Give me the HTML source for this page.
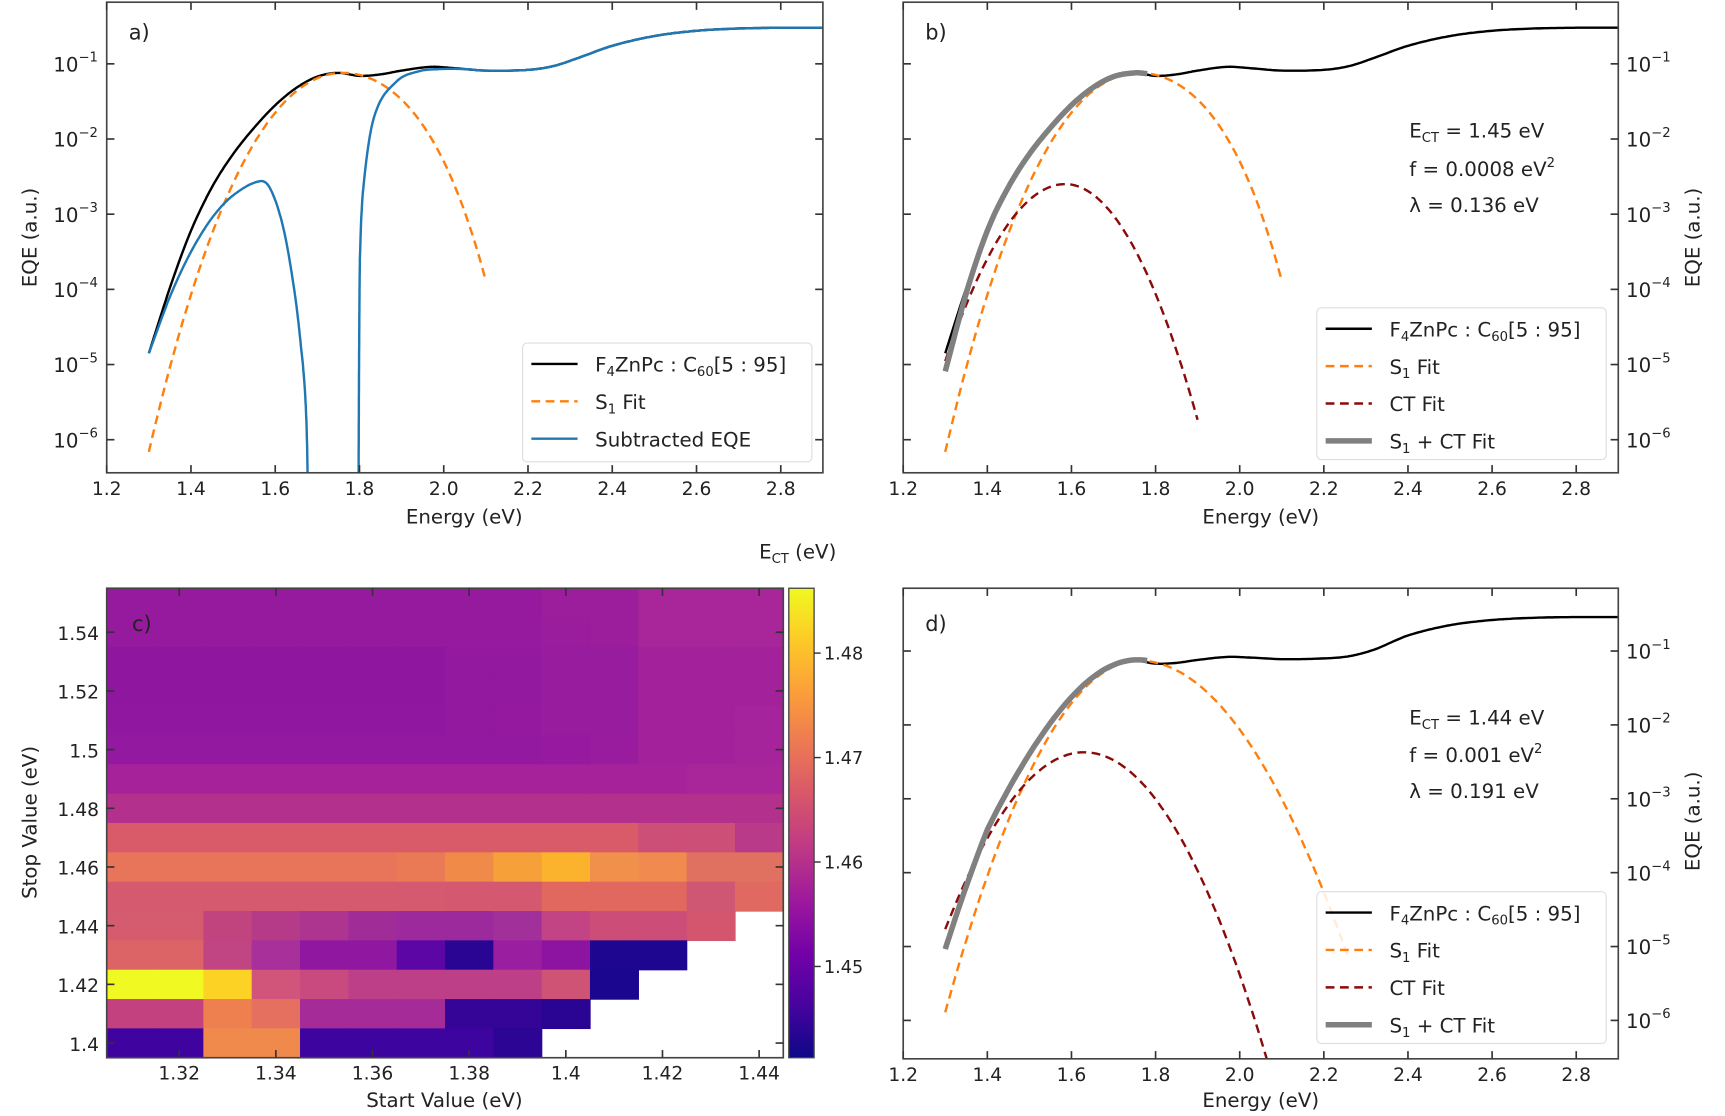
<!DOCTYPE html>
<html><head><meta charset="utf-8"><style>
html,body{margin:0;padding:0;background:#fff;}
svg{display:block;font-family:"DejaVu Sans","Liberation Sans",sans-serif;}
</style></head><body>
<svg id="s" width="1725" height="1116" viewBox="0 0 1568 1015" preserveAspectRatio="none" xmlns="http://www.w3.org/2000/svg"></svg>
<script>
var S=document.getElementById('s');var out='';
function herm(pts){var n=pts.length,m=[];for(var i=0;i<n;i++){var a=pts[Math.max(i-1,0)],b=pts[Math.min(i+1,n-1)];m.push((b[1]-a[1])/(b[0]-a[0]));}
var r=[];for(var i=0;i<n-1;i++){var x0=pts[i][0],x1=pts[i+1][0],h=x1-x0,y0=pts[i][1],y1=pts[i+1][1];var K=16;for(var k=0;k<K;k++){var t=k/K,t2=t*t,t3=t2*t;r.push([x0+h*t,(2*t3-3*t2+1)*y0+(t3-2*t2+t)*h*m[i]+(-2*t3+3*t2)*y1+(t3-t2)*h*m[i+1]]);}}r.push(pts[n-1]);return r;}
function fn(f,e0,e1){var r=[];for(var e=e0;e<=e1+1e-9;e+=0.005)r.push([e,f(e)]);return r;}
function P(x0,x1,y0,y1,e0,e1,l0,l1){return {X:function(e){return x0+(e-e0)/(e1-e0)*(x1-x0);},Y:function(l){return y0+(l0-l)/(l0-l1)*(y1-y0);},x0:x0,x1:x1,y0:y0,y1:y1};}
var cid=0;
function draw(p,q,st){var d='';q.forEach(function(a,i){d+=(i?'L':'M')+p.X(a[0]).toFixed(1)+','+p.Y(Math.max(a[1],-9)).toFixed(1);});out+='<path clip-path="url(#c'+p.cid+')" d="'+d+'" fill="none" stroke-linejoin="round" '+st+'/>';}
function path(p,pts,st){draw(p,herm(pts),st);}
function frame(p){p.cid=++cid;out+='<clipPath id="c'+cid+'"><rect x="'+p.x0+'" y="'+p.y0+'" width="'+(p.x1-p.x0)+'" height="'+(p.y1-p.y0)+'"/></clipPath>';}
function axes(p,right){out+='<rect x="'+p.x0+'" y="'+p.y0+'" width="'+(p.x1-p.x0)+'" height="'+(p.y1-p.y0)+'" fill="none" stroke="#444" stroke-width="1.5"/>';
for(var e=1.2;e<2.85;e+=0.2){var x=p.X(e);out+='<line x1="'+x+'" x2="'+x+'" y1="'+p.y0+'" y2="'+(p.y0+7)+'" stroke="#333" stroke-width="1.5"/><line x1="'+x+'" x2="'+x+'" y1="'+p.y1+'" y2="'+(p.y1-7)+'" stroke="#333" stroke-width="1.5"/>';out+='<text x="'+x+'" y="'+(p.y1+20)+'" font-size="17" text-anchor="middle" fill="#222">'+e.toFixed(1)+'</text>';}
for(var k=1;k<=6;k++){var y=p.Y(-k);out+='<line x1="'+p.x0+'" x2="'+(p.x0+7)+'" y1="'+y+'" y2="'+y+'" stroke="#333" stroke-width="1.5"/><line x1="'+p.x1+'" x2="'+(p.x1-7)+'" y1="'+y+'" y2="'+y+'" stroke="#333" stroke-width="1.5"/>';
var tx=right?p.x1+7:p.x0-8;out+='<text x="'+tx+'" y="'+(y+7)+'" font-size="18" text-anchor="'+(right?'start':'end')+'" fill="#222">10<tspan dy="-9" font-size="12">−'+k+'</tspan></text>';}}
function leg(x,y,w,h,items){out+='<rect x="'+x+'" y="'+y+'" width="'+w+'" height="'+h+'" rx="4" fill="#fff" fill-opacity="0.85" stroke="#ddd"/>';items.forEach(function(it,i){var yy=y+19+i*34;out+='<line x1="'+(x+8)+'" x2="'+(x+50)+'" y1="'+yy+'" y2="'+yy+'" '+it[0]+'/>';out+='<text x="'+(x+66)+'" y="'+(yy+7)+'" font-size="18" fill="#222">'+it[1]+'</text>';});}
var F4='F<tspan font-size="12" dy="4">4</tspan><tspan dy="-4">ZnPc : C</tspan><tspan font-size="12" dy="4">60</tspan><tspan dy="-4">[5 : 95]</tspan>';
var S1='S<tspan font-size="12" dy="4">1</tspan><tspan dy="-4"> Fit</tspan>';
var S1CT='S<tspan font-size="12" dy="4">1</tspan><tspan dy="-4"> + CT Fit</tspan>';
var BK='stroke="#000" stroke-width="2.2"',OR='stroke="#ff7f0e" stroke-width="2.2" stroke-dasharray="8,5"',BL='stroke="#1f77b4" stroke-width="2.2"',RD='stroke="#8b0a0a" stroke-width="2.2" stroke-dasharray="8,5"',GR='stroke="#808080" stroke-width="5"';
function lsum(a,b){return Math.log10(Math.pow(10,a)+Math.pow(10,b));}
function s1a(e){var d=e-1.76;if(d<0){d=-d;return -1.12-19*d*d-10.5*d*d*d;}return -1.12-17*d*d-60*d*d*d*d;}
function cta(e){var d=e-1.585;return -2.6-(d<0?29:31.6)*d*d;}
function s1d(e){var d=e-1.76;return -1.13-(d<0?22.5:16.2)*d*d;}
function ctd(e){var d=e-1.63;return -2.37-22*d*d;}
var black=[[1.30,-4.85],[1.35,-3.98],[1.40,-3.22],[1.45,-2.64],[1.50,-2.2],[1.55,-1.85],[1.60,-1.55],[1.65,-1.32],[1.70,-1.17],[1.75,-1.12],[1.80,-1.16],[1.85,-1.14],[1.90,-1.09],[1.97,-1.04],[2.03,-1.06],[2.1,-1.09],[2.2,-1.08],[2.26,-1.03],[2.32,-0.92],[2.4,-0.76],[2.5,-0.63],[2.6,-0.56],[2.7,-0.53],[2.8,-0.52],[2.9,-0.52]];
// panel a
var a=P(97,748,2,430,1.2,2.9,-0.18,-6.44);frame(a);
path(a,black,BK);
draw(a,fn(s1a,1.30,2.10),OR);
path(a,[[1.30,-4.85],[1.35,-4.1],[1.40,-3.5],[1.45,-3.05],[1.50,-2.75],[1.565,-2.56],[1.59,-2.68],[1.62,-3.2],[1.645,-4.0],[1.66,-4.7],[1.672,-5.5],[1.677,-6.5],[1.679,-8]],BL);
path(a,[[1.797,-8],[1.799,-5],[1.801,-3.6],[1.81,-2.6],[1.835,-1.7],[1.887,-1.24],[1.94,-1.1],[1.99,-1.07],[2.05,-1.07],[2.1,-1.09],[2.2,-1.08],[2.26,-1.03],[2.32,-0.92],[2.4,-0.76],[2.5,-0.63],[2.6,-0.56],[2.7,-0.53],[2.8,-0.52],[2.9,-0.52]],BL);
axes(a,false);
leg(475,312,263,108,[[BK,F4],[OR,S1],[BL,'Subtracted EQE']]);
out+='<text x="117" y="36" font-size="19" fill="#222">a)</text>';
out+='<text x="422" y="476" font-size="18" text-anchor="middle" fill="#222">Energy (eV)</text>';
out+='<text transform="translate(33,216) rotate(-90)" font-size="18" text-anchor="middle" fill="#222">EQE (a.u.)</text>';
// panel b
var b=P(821,1471,2,430,1.2,2.9,-0.18,-6.44);frame(b);
path(b,black,BK);draw(b,fn(s1a,1.30,2.10),OR);
draw(b,fn(cta,1.30,1.90),RD);
var gb=black.slice(0,11).map(function(p){return [p[0],p[1]];});gb[0]=[1.30,-5.09];gb[1]=[1.35,-4.05];gb[10]=[1.78,-1.13];
path(b,gb,GR);
axes(b,true);
leg(1197,280,263,138,[[BK,F4],[OR,S1],[RD,'CT Fit'],[GR,S1CT]]);
out+='<text x="841" y="36" font-size="19" fill="#222">b)</text>';
out+='<text x="1146" y="476" font-size="18" text-anchor="middle" fill="#222">Energy (eV)</text>';
out+='<text transform="translate(1545,216) rotate(-90)" font-size="18" text-anchor="middle" fill="#222">EQE (a.u.)</text>';
out+='<text x="1281" y="125" font-size="18" fill="#222">E<tspan font-size="12" dy="4">CT</tspan><tspan dy="-4"> = 1.45 eV</tspan></text>';
out+='<text x="1281" y="160" font-size="18" fill="#222">f = 0.0008 eV<tspan font-size="12" dy="-8">2</tspan></text>';
out+='<text x="1281" y="193" font-size="18" fill="#222">λ = 0.136 eV</text>';
// panel d
var d=P(821,1471,535,963,1.2,2.9,-0.15,-6.52);frame(d);
path(d,[[1.76,-1.13],[1.8,-1.17],[1.85,-1.16],[1.9,-1.12],[1.97,-1.08],[2.03,-1.09],[2.1,-1.11],[2.2,-1.1],[2.26,-1.07],[2.32,-0.98],[2.4,-0.79],[2.5,-0.65],[2.6,-0.58],[2.7,-0.55],[2.8,-0.54],[2.9,-0.54]],BK);
draw(d,fn(s1d,1.30,2.26),OR);
draw(d,fn(ctd,1.30,2.08),RD);
draw(d,fn(function(e){return lsum(s1d(e),ctd(e))-0.3*Math.max(0,(1.4-e)/0.1);},1.30,1.78),GR);
axes(d,true);
leg(1197,811,263,138,[[BK,F4],[OR,S1],[RD,'CT Fit'],[GR,S1CT]]);
out+='<text x="841" y="574" font-size="19" fill="#222">d)</text>';
out+='<text x="1146" y="1007" font-size="18" text-anchor="middle" fill="#222">Energy (eV)</text>';
out+='<text transform="translate(1545,747) rotate(-90)" font-size="18" text-anchor="middle" fill="#222">EQE (a.u.)</text>';
out+='<text x="1281" y="659" font-size="18" fill="#222">E<tspan font-size="12" dy="4">CT</tspan><tspan dy="-4"> = 1.44 eV</tspan></text>';
out+='<text x="1281" y="693" font-size="18" fill="#222">f = 0.001 eV<tspan font-size="12" dy="-8">2</tspan></text>';
out+='<text x="1281" y="726" font-size="18" fill="#222">λ = 0.191 eV</text>';
// panel c heatmap
var P1='#951a9e',P2='#a5229b',rows=[
[P1,P1,P1,P1,P1,P1,P1,P1,P1,'#9c1e9d','#9c1e9d','#a8259a','#a8259a','#a8259a'],
[P1,P1,P1,P1,P1,P1,P1,P1,P1,'#9a1d9d','#9c1e9d','#a8259a','#a8259a','#a8259a'],
['#8f17a0','#8f17a0','#8f17a0','#8f17a0','#8f17a0','#8f17a0','#8f17a0','#93199f','#93199f','#981c9e','#981c9e','#a3229b','#a3229b','#a3229b'],
['#8f17a0','#8f17a0','#8f17a0','#8f17a0','#8f17a0','#8f17a0','#8f17a0','#93199f','#93199f','#981c9e','#981c9e','#a3229b','#a3229b','#a3229b'],
['#9018a0','#9018a0','#9018a0','#9018a0','#9018a0','#9018a0','#9018a0','#93199f','#95199f','#981c9e','#981c9e','#a3229b','#a3229b','#a5239b'],
['#9219a0','#9219a0','#9219a0','#9219a0','#9219a0','#9219a0','#9219a0','#9219a0','#9219a0','#9619a0','#9a1c9e','#a3229b','#a3229b','#a5239b'],
[P2,P2,P2,P2,P2,P2,P2,P2,P2,P2,P2,P2,'#a8259a','#a8259a'],
['#b3318d','#b3318d','#b3318d','#b3318d','#b3318d','#b3318d','#b3318d','#b3318d','#b3318d','#b3318d','#b3318d','#b3318d','#b3318d','#b3318d'],
['#d95b6a','#d95b6a','#d95b6a','#d95b6a','#d95b6a','#d95b6a','#d95b6a','#d95b6a','#d95b6a','#d95b6a','#d95b6a','#cc4f78','#cc4f78','#b93a88'],
['#e8755a','#e8755a','#e8755a','#e8755a','#e8755a','#e8755a','#ea7a56','#ef8a48','#f5a038','#fbb32e','#f0904a','#f08a4e','#e07060','#e07060'],
['#d55a70','#d55a70','#d55a70','#d55a70','#d55a70','#d55a70','#d55a70','#d35870','#d35870','#e0685e','#e0685e','#e0685e','#cf5774','#e06a62'],
['#d45c6e','#d45c6e','#c2447f','#b53b88','#ad3590','#a02c98','#9c2a9c','#9c2a9c','#a1309a','#c24484','#cc4e78','#cc4e78','#d4566e',null],
['#dc6466','#dc6466','#c04582','#a8309a','#9018a0','#9018a0','#5c06a6','#2a0593','#9a1ea0','#8c14a0','#1e0690','#1e0690',null,null],
['#f0f921','#f0f921','#fcd225','#d1547a','#c84a7e','#bc3f88','#bc3f88','#bc3f88','#bc3f88','#cf5374','#1a068f',null,null,null],
['#c4417f','#c4417f','#ee8050','#e57060','#a52c98','#a52c98','#a52c98','#340596','#340596','#2a0594',null,null,null,null],
['#3f04a0','#3f04a0','#f08a4c','#f08a4c','#3e04a0','#3e04a0','#3e04a0','#3e04a0','#2c0594',null,null,null,null,null]];
var cx0=97,cw=(712-97)/14,cy0=535,ch=(962-535)/16;
rows.forEach(function(r,i){r.forEach(function(c,j){if(c)out+='<rect x="'+(cx0+j*cw).toFixed(2)+'" y="'+(cy0+i*ch).toFixed(2)+'" width="'+(cw+0.6).toFixed(2)+'" height="'+(ch+0.6).toFixed(2)+'" fill="'+c+'"/>';});});
out+='<rect x="97" y="535" width="615" height="427" fill="none" stroke="#444" stroke-width="1.5"/>';
var xt=['1.32','1.34','1.36','1.38','1.4','1.42','1.44'];
xt.forEach(function(t,i){var x=cx0+cw*(1.5+2*i);out+='<line x1="'+x+'" x2="'+x+'" y1="535" y2="542" stroke="#333" stroke-width="1.5"/><line x1="'+x+'" x2="'+x+'" y1="962" y2="955" stroke="#333" stroke-width="1.5"/><text x="'+x+'" y="982" font-size="17" text-anchor="middle" fill="#222">'+t+'</text>';});
var yt=['1.54','1.52','1.5','1.48','1.46','1.44','1.42','1.4'];
yt.forEach(function(t,i){var y=cy0+ch*(1.5+2*i);out+='<line x1="97" x2="104" y1="'+y+'" y2="'+y+'" stroke="#333" stroke-width="1.5"/><line x1="712" x2="705" y1="'+y+'" y2="'+y+'" stroke="#333" stroke-width="1.5"/><text x="90" y="'+(y+7)+'" font-size="17" text-anchor="end" fill="#222">'+t+'</text>';});
out+='<text x="120" y="574" font-size="19" fill="#222">c)</text>';
out+='<text x="404" y="1007" font-size="18" text-anchor="middle" fill="#222">Start Value (eV)</text>';
out+='<text transform="translate(33,748) rotate(-90)" font-size="18" text-anchor="middle" fill="#222">Stop Value (eV)</text>';
out+='<defs><linearGradient id="pl" x1="0" y1="1" x2="0" y2="0"><stop offset="0" stop-color="#0d0887"/><stop offset=".11" stop-color="#46039f"/><stop offset=".22" stop-color="#7201a8"/><stop offset=".33" stop-color="#9c179e"/><stop offset=".44" stop-color="#bd3786"/><stop offset=".56" stop-color="#d8576b"/><stop offset=".67" stop-color="#ed7953"/><stop offset=".78" stop-color="#fb9f3a"/><stop offset=".89" stop-color="#fdca26"/><stop offset="1" stop-color="#f0f921"/></linearGradient></defs>';
out+='<rect x="717" y="535" width="23" height="427" fill="url(#pl)" stroke="#444" stroke-width="1.2"/>';
[['1.48',594],['1.47',689],['1.46',784],['1.45',879]].forEach(function(t){out+='<line x1="740" x2="746" y1="'+t[1]+'" y2="'+t[1]+'" stroke="#333" stroke-width="1.3"/><text x="749" y="'+(t[1]+6)+'" font-size="16" fill="#222">'+t[0]+'</text>';});
out+='<text x="690" y="508" font-size="18" fill="#222">E<tspan font-size="12" dy="4">CT</tspan><tspan dy="-4"> (eV)</tspan></text>';
S.innerHTML=out;
</script>
</body></html>
